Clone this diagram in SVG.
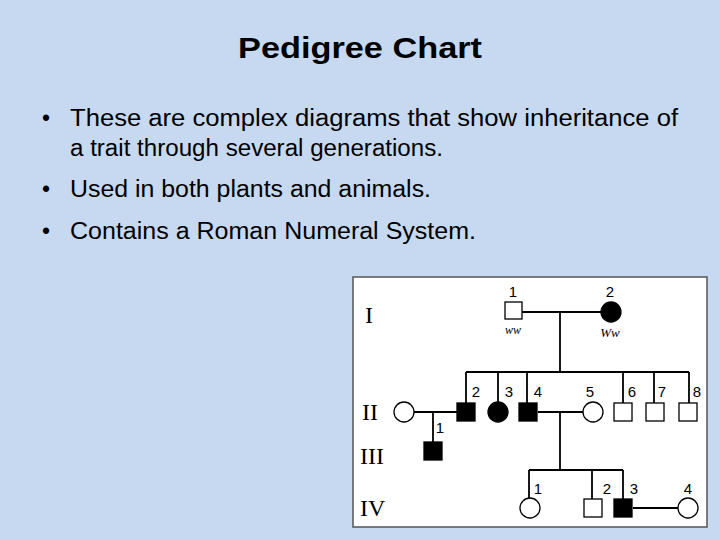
<svg xmlns="http://www.w3.org/2000/svg" width="720" height="540" viewBox="0 0 720 540">
<style>
.t{font-family:"Liberation Sans",Arial,sans-serif;fill:#000}
.n{font-family:"Liberation Sans",Arial,sans-serif;font-size:15px;text-anchor:middle}
.r{font-family:"Liberation Serif","Times New Roman",serif;font-size:24px}
.o{fill:#fff;stroke:#000;stroke-width:1.3}
.f{fill:#000;stroke:#000;stroke-width:1.3}
.l{stroke:#000;stroke-width:1.8;fill:none}
</style>
<rect width="720" height="540" fill="#c6d9f0"/>
<text class="t" x="238" y="58" font-size="30" font-weight="bold" textLength="244" lengthAdjust="spacingAndGlyphs">Pedigree Chart</text>
<g class="t" font-size="23">
<text x="42" y="126">•</text><text x="70" y="126" textLength="608" lengthAdjust="spacingAndGlyphs">These are complex diagrams that show inheritance of</text>
<text x="70" y="156" textLength="373" lengthAdjust="spacingAndGlyphs">a trait through several generations.</text>
<text x="42" y="197">•</text><text x="70" y="197" textLength="361" lengthAdjust="spacingAndGlyphs">Used in both plants and animals.</text>
<text x="42" y="239">•</text><text x="70" y="239" textLength="406" lengthAdjust="spacingAndGlyphs">Contains a Roman Numeral System.</text>
</g>
<rect x="353" y="277" width="354" height="250" fill="#fff" stroke="#555" stroke-width="1.5"/>
<g class="r">
<text x="365" y="323">I</text><text x="362" y="420">II</text><text x="360" y="464">III</text><text x="360" y="516">IV</text>
</g>
<g id="connectors" class="l">
<path d="M522 312H601M560 312V372M466 372H689M466 372V403M498 372V402M527 372V403M623 372V403M654 372V403M689 372V403"/>
<path d="M414 412H457M433 412V442"/>
<path d="M538 412H583M560 412V470M529 470H623M529 470V498M592 470V499M623 470V499M633 508H678"/>
</g>
<g id="I-1"><rect class="o" x="505" y="302" width="17" height="17"/><text class="n" x="513" y="297">1</text><text x="513" y="334" font-family="Liberation Serif,serif" font-style="italic" font-size="12" text-anchor="middle">ww</text></g>
<g id="I-2"><circle class="f" cx="611" cy="312" r="10"/><text class="n" x="610" y="297">2</text><text x="610" y="337" font-family="Liberation Serif,serif" font-style="italic" font-size="13" text-anchor="middle">Ww</text></g>
<g id="II-0"><circle class="o" cx="404" cy="412" r="10"/></g>
<g id="II-2"><rect class="f" x="457" y="403" width="18" height="18"/><text class="n" x="476" y="397">2</text></g>
<g id="II-3"><circle class="f" cx="498" cy="412" r="10"/><text class="n" x="509" y="397">3</text></g>
<g id="II-4"><rect class="f" x="519" y="403" width="18" height="18"/><text class="n" x="538" y="397">4</text></g>
<g id="II-5"><circle class="o" cx="593" cy="412" r="10"/><text class="n" x="590" y="397">5</text></g>
<g id="II-6"><rect class="o" x="614" y="403" width="18" height="18"/><text class="n" x="632" y="397">6</text></g>
<g id="II-7"><rect class="o" x="646" y="403" width="18" height="18"/><text class="n" x="662" y="397">7</text></g>
<g id="II-8"><rect class="o" x="679" y="403" width="18" height="18"/><text class="n" x="697" y="397">8</text></g>
<g id="III-1"><rect class="f" x="424" y="442" width="18" height="18"/><text class="n" x="440" y="433">1</text></g>
<g id="IV-1"><circle class="o" cx="530" cy="508" r="10"/><text class="n" x="538" y="494">1</text></g>
<g id="IV-2"><rect class="o" x="584" y="499" width="18" height="18"/><text class="n" x="607" y="494">2</text></g>
<g id="IV-3"><rect class="f" x="614" y="499" width="18" height="18"/><text class="n" x="634" y="494">3</text></g>
<g id="IV-4"><circle class="o" cx="688" cy="508" r="10"/><text class="n" x="688" y="494">4</text></g>
</svg>
